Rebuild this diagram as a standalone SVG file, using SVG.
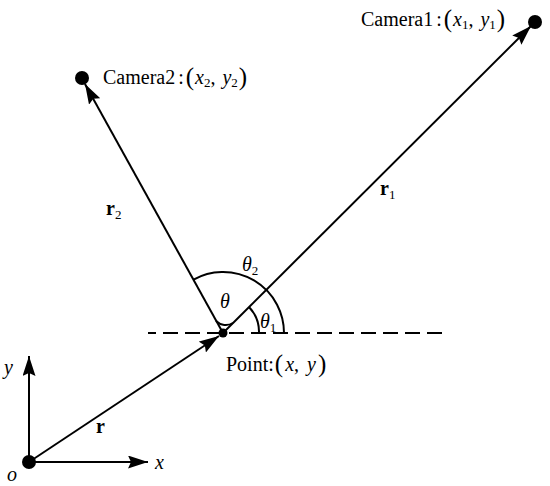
<svg xmlns="http://www.w3.org/2000/svg" width="550" height="486" viewBox="0 0 550 486">
<defs>
<marker id="ah" viewBox="0 0 20 13" refX="20" refY="6.5" markerWidth="20" markerHeight="13" markerUnits="userSpaceOnUse" orient="auto">
<path d="M0,0 L20,6.5 L0,13 L3,6.5 Z" fill="#000"/>
</marker>
</defs>
<style>
.ln{stroke:#000;stroke-width:2;fill:none}
.t{font-family:"Liberation Serif","Times New Roman",serif;font-size:20px;fill:#000}
.i{font-style:italic}
.b{font-weight:bold}
.s{font-size:13px}
.p{font-size:25px}
</style>
<rect width="550" height="486" fill="#fff"/>
<g id="connectors">
<line class="ln" x1="29" y1="462" x2="29" y2="356" marker-end="url(#ah)"/>
<line class="ln" x1="29" y1="462" x2="148" y2="462" marker-end="url(#ah)"/>
<line class="ln" x1="29" y1="462" x2="219" y2="336" marker-end="url(#ah)"/>
<line class="ln" x1="223" y1="333" x2="531" y2="26" marker-end="url(#ah)"/>
<line class="ln" x1="223" y1="333" x2="85" y2="84" marker-end="url(#ah)"/>
<line class="ln" x1="148" y1="333" x2="442" y2="333" stroke-dasharray="15 7" stroke-dashoffset="-15"/>
<path class="ln" d="M193.5,279.6 A61,61 0 0 1 284,333"/>
<path class="ln" d="M216,321 A14,14 0 0 0 233,323"/>
<path class="ln" d="M249,307 A36,36 0 0 1 259,333"/>
</g>
<g id="origin"><circle cx="29" cy="462" r="7"/><text class="t i" x="7" y="481">o</text></g>
<g id="axis-labels">
<text class="t i" x="4" y="374">y</text>
<text class="t i" x="155" y="469">x</text>
</g>
<g id="point"><circle cx="223" cy="333" r="4.5"/>
<text class="t" x="226" y="371">Point:<tspan class="p" dx="1" dy="1">(</tspan><tspan class="i" dx="2" dy="-1">x</tspan>,<tspan class="i" dx="8">y</tspan><tspan class="p" dx="2" dy="1">)</tspan></text>
</g>
<g id="camera1"><circle cx="535" cy="22" r="7"/>
<text class="t" x="361" y="26">Camera1<tspan dx="3">:</tspan><tspan class="p" dx="2" dy="1">(</tspan><tspan class="i" dx="1" dy="-1">x</tspan><tspan class="s" dy="3">1</tspan><tspan dy="-3">, </tspan><tspan class="i" dx="2">y</tspan><tspan class="s" dy="3">1</tspan><tspan class="p" dx="1" dy="-2">)</tspan></text>
</g>
<g id="camera2"><circle cx="82" cy="78" r="7"/>
<text class="t" x="103" y="84">Camera2<tspan dx="3">:</tspan><tspan class="p" dx="2" dy="1">(</tspan><tspan class="i" dx="1" dy="-1">x</tspan><tspan class="s" dy="3">2</tspan><tspan dy="-3">, </tspan><tspan class="i" dx="2">y</tspan><tspan class="s" dy="3">2</tspan><tspan class="p" dx="1" dy="-2">)</tspan></text>
</g>
<g id="labels">
<text class="t b" x="106" y="215">r<tspan class="s" font-weight="normal" dy="4">2</tspan></text>
<text class="t b" x="380" y="195">r<tspan class="s" font-weight="normal" dy="4">1</tspan></text>
<text class="t b" x="96" y="433">r</text>
<text class="t i" x="242" y="271">θ<tspan class="s" font-style="normal" dy="4">2</tspan></text>
<text class="t i" x="220" y="308">θ</text>
<text class="t i" x="260" y="328">θ<tspan class="s" font-style="normal" dy="4">1</tspan></text>
</g>
</svg>
